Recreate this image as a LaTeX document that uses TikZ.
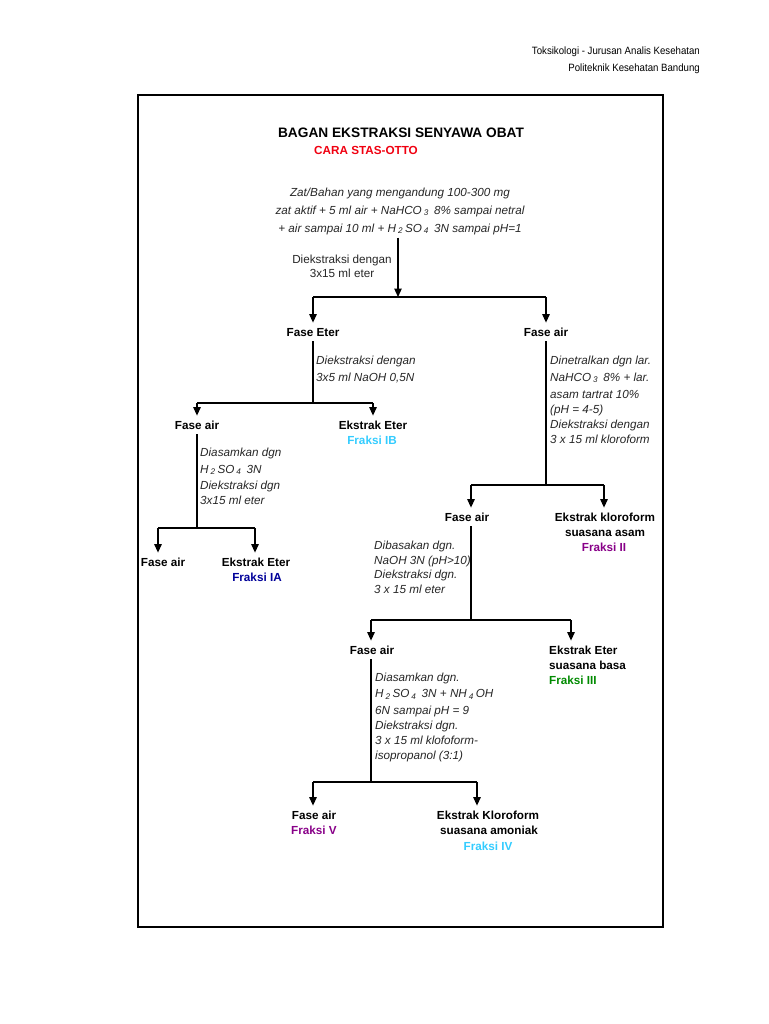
\documentclass[tikz,border=0pt]{standalone}
\usepackage{fontspec}
\setmainfont{Liberation Sans}
\usetikzlibrary{arrows.meta}
\definecolor{fred}{HTML}{F00010}
\definecolor{fcyan}{HTML}{33CCFF}
\definecolor{fnavy}{HTML}{000099}
\definecolor{fpurple}{HTML}{880088}
\definecolor{fgreen}{HTML}{008A00}
\newcommand{\sbs}[1]{\,\textsubscript{#1}\,}
\begin{document}
\begin{tikzpicture}[x=1pt,y=-1pt,
  lbl/.style={font=\fontsize{11.7}{14}\selectfont\bfseries, inner xsep=0pt, inner ysep=5pt, text height=8.4pt, text depth=0pt},
  plain/.style={font=\fontsize{11.7}{14}\selectfont, inner sep=0pt, align=center, text=black!85},
  note/.style={font=\fontsize{11.7}{15}\selectfont\itshape, inner sep=0pt, align=left, anchor=north west, text=black!85},
  hdr/.style={font=\fontsize{10.6}{12}\selectfont, inner sep=0pt, anchor=east},
  arr/.style={-{Triangle[length=8.5pt,width=7.5pt]}, line width=1.2pt},
  ln/.style={line width=1.2pt}]
\useasboundingbox (0,0) rectangle (768,1024);
\draw[line width=2pt] (138,95) rectangle (663,927);

% header
\node[hdr] (h1) at (700,52) {\scalebox{0.91}[1]{Toksikologi - Jurusan Analis Kesehatan}};
\node[hdr] (h2) at (700,69) {\scalebox{0.91}[1]{Politeknik Kesehatan Bandung}};

% title
\node[font=\fontsize{13.7}{16}\selectfont\bfseries, inner sep=0pt] (title) at (401,133) {BAGAN EKSTRAKSI SENYAWA OBAT};
\node[font=\fontsize{11.7}{14}\selectfont\bfseries, text=fred, inner sep=0pt] (cara) at (366,150) {CARA STAS-OTTO};

% start
\node[font=\fontsize{11.7}{18}\selectfont\itshape, inner sep=0pt, align=center, text=black!85] (start) at (400,211)
  {Zat/Bahan yang mengandung 100-300 mg\\
   zat aktif + 5 ml air + NaHCO\sbs{3} 8\% sampai netral\\
   + air sampai 10 ml + H\sbs{2}SO\sbs{4} 3N sampai pH=1};

\coordinate (j1) at (398,297);
\draw[arr] (start.south -| j1) ++(0,3) -- (j1);
\node[plain] (d1) at (342,266) {Diekstraksi dengan\\3x15 ml eter};

\node[lbl] (eter) at (313,332) {Fase Eter};
\node[lbl] (air1) at (546,332) {Fase air};
\draw[ln] (eter.north |- j1) -- (air1.north |- j1);
\draw[arr] (eter.north |- j1) -- (eter.north);
\draw[arr] (air1.north |- j1) -- (air1.north);

% left branch
\node[note] (n2) at (316,356) {Diekstraksi dengan\\[2pt]3x5 ml NaOH 0,5N};
\coordinate (j2) at (313,403);
\draw[ln] (eter.south) -- (j2);
\node[lbl] (air2) at (197,425) {Fase air};
\node[lbl] (eks1) at (373,425) {Ekstrak Eter};
\node[lbl, text=fcyan] (fIB) at (372,440) {Fraksi IB};
\draw[ln] (air2.north |- j2) -- (eks1.north |- j2);
\draw[arr] (air2.north |- j2) -- (air2.north);
\draw[arr] (eks1.north |- j2) -- (eks1.north);

\node[note] (n3) at (200,448) {Diasamkan dgn\\[1.5pt]H\sbs{2}SO\sbs{4} 3N\\[1pt]Diekstraksi dgn\\3x15 ml eter};
\coordinate (j3) at (197,528);
\draw[ln] (air2.south) -- (j3);
\coordinate (k3a) at (158,528);
\coordinate (k3b) at (255,528);
\node[lbl] (air3) at (163,562) {Fase air};
\node[lbl] (eks2) at (256,562) {Ekstrak Eter};
\node[lbl, text=fnavy] (fIA) at (257,577) {Fraksi IA};
\draw[ln] (k3a) -- (k3b);
\draw[arr] (k3a) -- (k3a |- air3.north);
\draw[arr] (k3b) -- (k3b |- eks2.north);

% right branch
\node[note] (n4) at (550,356) {Dinetralkan dgn lar.\\[1.5pt]NaHCO\sbs{3} 8\% + lar.\\[2pt]asam tartrat 10\%\\(pH = 4-5)\\Diekstraksi dengan\\3 x 15 ml kloroform};
\coordinate (j4) at (546,485);
\draw[ln] (air1.south) -- (j4);
\coordinate (k4a) at (471,485);
\coordinate (k4b) at (604,485);
\node[lbl] (air4) at (467,517) {Fase air};
\node[lbl] (eks3) at (605,517) {Ekstrak kloroform};
\node[lbl] (eks3b) at (605,532) {suasana asam};
\node[lbl, text=fpurple] (fII) at (604,547) {Fraksi II};
\draw[ln] (k4a) -- (k4b);
\draw[arr] (k4a) -- (k4a |- air4.north);
\draw[arr] (k4b) -- (k4b |- eks3.north);

\node[note, font=\fontsize{11.7}{14.5}\selectfont\itshape] (n5) at (374,541) {Dibasakan dgn.\\NaOH 3N (pH>10)\\Diekstraksi dgn.\\3 x 15 ml eter};
\coordinate (j5) at (471,620);
\draw[ln] (k4a |- air4.south) -- (j5);
\coordinate (k5a) at (371,620);
\coordinate (k5b) at (571,620);
\node[lbl] (air5) at (372,650) {Fase air};
\node[lbl, anchor=west] (eks4) at (549,650) {Ekstrak Eter};
\node[lbl, anchor=west] (eks4b) at (549,665) {suasana basa};
\node[lbl, anchor=west, text=fgreen] (fIII) at (549,680) {Fraksi III};
\draw[ln] (k5a) -- (k5b);
\draw[arr] (k5a) -- (k5a |- air5.north);
\draw[arr] (k5b) -- (k5b |- eks4.north);

\node[note] (n6) at (375,673) {Diasamkan dgn.\\[1pt]H\sbs{2}SO\sbs{4} 3N + NH\sbs{4}OH\\[2pt]6N sampai pH = 9\\Diekstraksi dgn.\\3 x 15 ml klofoform-\\isopropanol (3:1)};
\coordinate (j6) at (371,782);
\draw[ln] (k5a |- air5.south) -- (j6);
\coordinate (k6a) at (313,782);
\coordinate (k6b) at (477,782);
\node[lbl] (air6) at (314,815) {Fase air};
\node[lbl, text=fpurple] (fV) at (314,830) {Fraksi V};
\node[lbl] (eks5) at (488,815) {Ekstrak Kloroform};
\node[lbl] (eks5b) at (489,830) {suasana amoniak};
\node[lbl, text=fcyan] (fIV) at (488,846) {Fraksi IV};
\draw[ln] (k6a) -- (k6b);
\draw[arr] (k6a) -- (k6a |- air6.north);
\draw[arr] (k6b) -- (k6b |- eks5.north);
\end{tikzpicture}
\end{document}
